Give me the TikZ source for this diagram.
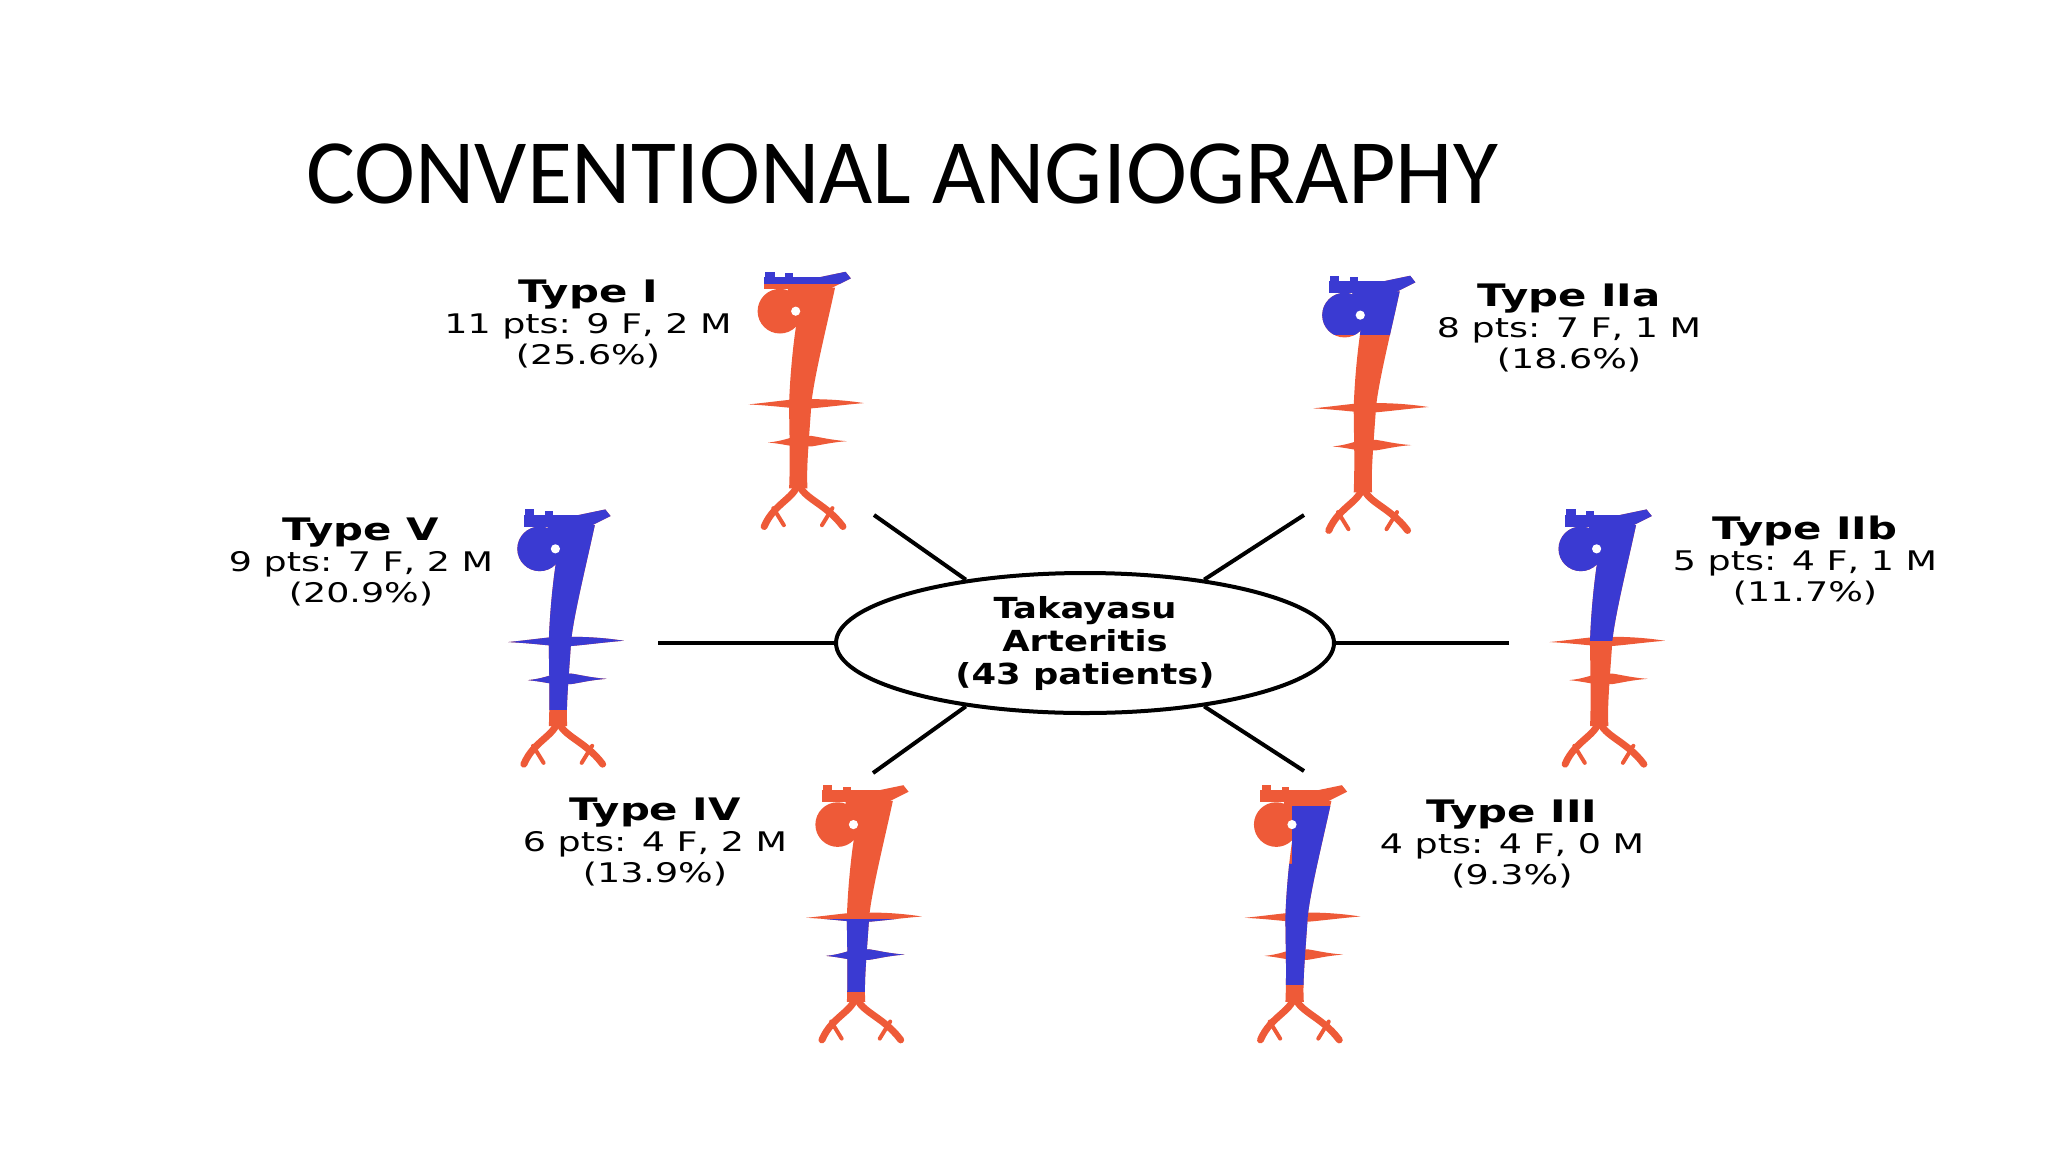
\documentclass[tikz,border=0pt]{standalone}
\usepackage{fontspec}
\usetikzlibrary{shapes.geometric}
\setmainfont{DejaVu Sans}
\newfontfamily\labfont[FakeStretch=1.35]{DejaVu Sans}
\newfontfamily\ctrfont[FakeStretch=1.22]{DejaVu Sans}
\newfontfamily\titlefont{Carlito}
\definecolor{ared}{HTML}{EE5A38}
\definecolor{ablue}{HTML}{3A3AD2}
\newcommand{\aortabody}[1]{%
  \fill[#1] (12,4) rectangle (62,13);
  \fill[#1] (13,0) rectangle (20,6);
  \fill[#1] (28,1) rectangle (34,6);
  \fill[#1] (50,5) -- (74,0) -- (78,5) -- (62,13) -- cycle;
  \fill[#1] (24,30) circle (17);
  \fill[#1] (30,12) -- (66,12) .. controls (60,40) and (50,80) .. (48,100) .. controls (46,130) and (44,150) .. (45,165) -- (31,165) .. controls (32,140) and (31,120) .. (31,100) .. controls (32,70) and (36,40) .. (38,32) -- (30,20) -- cycle;
  \draw[#1,line width=7,line cap=round] (38,158) .. controls (38,172) and (20,175) .. (12,194);
  \draw[#1,line width=7,line cap=round] (38,158) .. controls (38,172) and (58,175) .. (72,194);
  \draw[#1,line width=4,line cap=round] (19,180) -- (27,193);
  \draw[#1,line width=4,line cap=round] (64,180) -- (56,193);
  \fill[white] (36,30) circle (3.5);
}
\newcommand{\aortaspind}[1]{%
  \fill[#1] (0,101) .. controls (20,99) and (32,97) .. (40,97) -- (48,97) .. controls (62,97) and (75,98) .. (88,100) .. controls (75,101) and (60,103) .. (48,104) -- (40,104) .. controls (32,104) and (20,102) .. (0,101) -- cycle;
  \fill[#1] (15,130) .. controls (26,129) and (32,126) .. (38,125) -- (48,125) .. controls (55,126) and (62,128) .. (75,129) .. controls (62,130) and (55,132) .. (48,133) -- (38,133) .. controls (32,133) and (26,131) .. (15,130) -- cycle;
}
\newcommand{\aorta}[4]{%
  \begin{scope}[shift={(#1*1.313,#2*1.313)},scale=1.313]
    \aortaspind{ared}\aortabody{ared}
    \begin{scope}\clip #3; \aortabody{ablue}\ifnum#4=1 \aortaspind{ablue}\fi\end{scope}
  \end{scope}}
\tikzset{spoke/.style={line width=4pt},
  lab/.style={align=center,font=\labfont\fontsize{27}{31}\selectfont}}
\newcommand{\tl}[1]{{\fontsize{31}{31}\selectfont\bfseries #1}}
\begin{document}
\begin{tikzpicture}[x=1pt,y=-1pt]
\useasboundingbox (0,0) rectangle (2048,1152);
\node[anchor=base west,inner sep=0,font=\titlefont\fontsize{92}{92}\selectfont] (title) at (306,203) {CONVENTIONAL ANGIOGRAPHY};
\node[draw,ellipse,line width=4pt,minimum width=498,minimum height=140,inner sep=0,align=center,font=\ctrfont\bfseries\fontsize{29}{33}\selectfont] (c) at (1085,643) {Takayasu\\Arteritis\\(43 patients)};
\coordinate (ul) at (874,515); \coordinate (ur) at (1304,515);
\coordinate (l) at (658,643); \coordinate (r) at (1509,643);
\coordinate (ll) at (873,773); \coordinate (lr) at (1304,771);
\draw[spoke] (ul) -- (c.152); \draw[spoke] (ur) -- (c.28);
\draw[spoke] (l) -- (c.west); \draw[spoke] (r) -- (c.east);
\draw[spoke] (ll) -- (c.208); \draw[spoke] (lr) -- (c.332);
\aorta{570}{207}{(-5,-5) rectangle (95,9)}{0}
\aorta{1000}{210}{(-5,-5) rectangle (95,45)}{0}
\aorta{387}{388}{(-5,-5) rectangle (95,152)}{1}
\aorta{1180}{388}{(-5,-5) rectangle (95,100)}{0}
\aorta{614}{598}{(-5,102) rectangle (95,157)}{1}
\aorta{948}{598}{(36,16) rectangle (95,152) (-5,60) rectangle (95,152)}{0}
\node[lab] (t1) at (588,324) {\tl{Type I}\\11 pts: 9 F, 2 M\\(25.6\%)};
\node[lab] (t2a) at (1569,328) {\tl{Type IIa}\\8 pts: 7 F, 1 M\\(18.6\%)};
\node[lab] (t5) at (361,562) {\tl{Type V}\\9 pts: 7 F, 2 M\\(20.9\%)};
\node[lab] (t2b) at (1805,560) {\tl{Type IIb}\\5 pts: 4 F, 1 M\\(11.7\%)};
\node[lab] (t4) at (655,842) {\tl{Type IV}\\6 pts: 4 F, 2 M\\(13.9\%)};
\node[lab] (t3) at (1512,844) {\tl{Type III}\\4 pts: 4 F, 0 M\\(9.3\%)};
\end{tikzpicture}
\end{document}
